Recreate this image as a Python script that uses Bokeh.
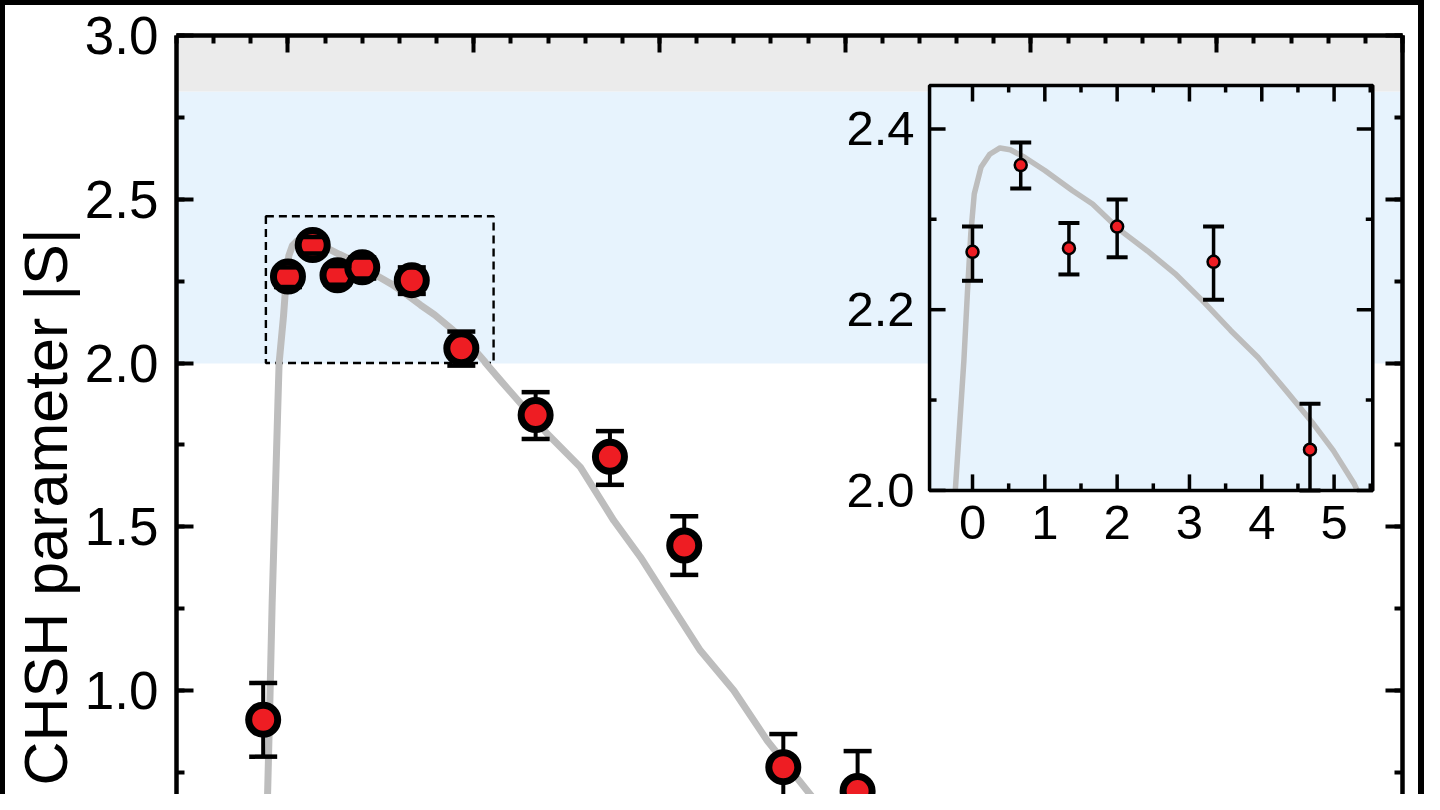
import numpy as np
from bokeh.plotting import figure
from bokeh.models import (Range1d, LinearAxis, SingleIntervalTicker, PrintfTickFormatter, Title)
from bokeh.embed import file_html
from bokeh.resources import INLINE
from bokeh.core.properties import value

# ---------------- data ----------------
delay = [-2/3, 0.0, 2/3, 4/3, 2.0, 10/3, 14/3, 20/3, 26/3, 32/3, 40/3, 46/3]
s_meas = [0.911, 2.264, 2.360, 2.268, 2.292, 2.253, 2.045, 1.841, 1.714, 1.443, 0.766, 0.693]
s_lo = [0.798, 2.232, 2.334, 2.239, 2.258, 2.211, 1.992, 1.768, 1.628, 1.353, 0.652, 0.571]
s_hi = [1.023, 2.292, 2.385, 2.296, 2.322, 2.292, 2.096, 1.911, 1.792, 1.532, 0.867, 0.815]

theory_x = [-0.59, -0.56, -0.49, -0.425, -0.34, -0.27, -0.238, -0.119, -0.071, -0.024, 0.024,
            0.119, 0.238, 0.38, 0.523, 0.713, 1.0, 1.38, 1.66, 2.04, 2.42, 2.80, 3.18, 3.57,
            3.95, 4.33, 4.71, 4.99, 5.28, 5.32, 5.72, 6.98, 7.87, 8.77, 9.49, 10.12, 11.10,
            12.0, 12.9, 13.61, 14.33, 15.0]
theory_s = [0.50, 0.63, 0.95, 1.27, 1.60, 1.88, 2.000, 2.144, 2.218, 2.284, 2.328,
            2.358, 2.372, 2.379, 2.377, 2.369, 2.354, 2.332, 2.317, 2.288, 2.265, 2.240, 2.210, 2.177,
            2.147, 2.111, 2.074, 2.044, 2.007, 2.000, 1.947, 1.784, 1.682, 1.519, 1.407, 1.295, 1.122,
            1.000, 0.847, 0.746, 0.644, 0.54]

classical_bound = 2.0
tsirelson_bound = 2 * np.sqrt(2)
s_max = 3.0

inset_x_ticks = [0, 1, 2, 3, 4, 5]
inset_x_minor = [0.5, 1.5, 2.5, 3.5, 4.5, 5.5]
inset_y_ticks = [2.0, 2.2, 2.4]
inset_y_minor = [2.1, 2.3]
inset_x_labels = ["0", "1", "2", "3", "4", "5"]
inset_y_labels = ["2.0", "2.2", "2.4"]
y_label = "CHSH parameter |S|"

# ---------------- style / layout ----------------
FONT = "Liberation Sans"
RED = "#ee1d23"
CURVE = "#bdbdbd"
BLUE = "#e7f3fd"
GRAY = "#ebebeb"

BL, BT, BR = 5, 5, 6            # black frame around the picture (CSS borders, border-box)
W, H = 1424, 794
MB_L, MB_T = 176 - BL, 35 - BT
MB_R = W - (1402 - BL)
FRAME_W = W - MB_L - MB_R
FRAME_H = H - MB_T
X0, X1 = -3.0, 30.0
Y1 = 3.0
Y0 = Y1 - FRAME_H / 327.5

# inset data window and where it sits (in main data coordinates)
IX0, IX1, IY0, IY1 = -0.594, 5.535, 2.0, 2.448
PL, PR, PB, PT = 17.27, 29.20, 1.611, 2.847

sx = (IX1 - IX0) / (PR - PL)
sy = (IY1 - IY0) / (PT - PB)
ix_start = IX0 - (PL - X0) * sx
ix_end = IX1 + (X1 - PR) * sx
iy_start = IY0 - (PB - Y0) * sy
iy_end = IY1 + (Y1 - PT) * sy
ipx_x = (ix_end - ix_start) / FRAME_W   # inset x units per pixel
ipx_y = (iy_end - iy_start) / FRAME_H   # inset y units per pixel

p = figure(width=W, height=H, x_range=Range1d(X0, X1), y_range=Range1d(Y0, Y1),
           output_backend="svg", toolbar_location=None,
           x_axis_location=None, y_axis_location=None,
           min_border_left=MB_L, min_border_right=MB_R, min_border_top=MB_T, min_border_bottom=0)
p.outline_line_color = None
p.grid.visible = False
p.background_fill_color = "white"
p.border_fill_color = "white"
p.styles = {"border-left": f"{BL}px solid black", "border-top": f"{BT}px solid black",
            "border-right": f"{BR}px solid black"}
p.extra_x_ranges = {"ix": Range1d(ix_start, ix_end)}
p.extra_y_ranges = {"iy": Range1d(iy_start, iy_end)}


def style_axis(ax, labels=True):
    ax.axis_line_width = 4.5
    ax.axis_line_color = "black"
    ax.major_tick_line_width = 4
    ax.minor_tick_line_width = 4
    ax.major_tick_in = 17
    ax.major_tick_out = 0
    ax.minor_tick_in = 8
    ax.minor_tick_out = 0
    if labels:
        ax.major_label_text_font = FONT
        ax.major_label_text_font_size = "53px"
        ax.major_label_text_color = "black"
        ax.major_label_standoff = 18
    else:
        ax.major_label_text_font_size = "1px"
        ax.major_label_text_color = None
        ax.major_label_standoff = 0


left = LinearAxis(ticker=SingleIntervalTicker(interval=0.5, num_minor_ticks=2),
                  formatter=PrintfTickFormatter(format="%.1f"))
style_axis(left)
p.add_layout(left, "left")
right = LinearAxis(ticker=SingleIntervalTicker(interval=0.5, num_minor_ticks=2))
style_axis(right, labels=False)
p.add_layout(right, "right")
top = LinearAxis(ticker=SingleIntervalTicker(interval=5, num_minor_ticks=5))
style_axis(top, labels=False)
p.add_layout(top, "above")

# y label as a side title (bottom-aligned like the cropped original)
ytitle = Title(text=y_label, align="left", offset=14, standoff=4,
               text_font=FONT, text_font_size="61px", text_font_style="normal",
               text_color="black")
p.add_layout(ytitle, "left")

# bands
p.hstrip(y0=[classical_bound, tsirelson_bound], y1=[tsirelson_bound, s_max],
         fill_color=[BLUE, GRAY], line_color=None)

# zoom box
p.quad(left=[IX0], right=[IX1], bottom=[IY0], top=[IY1], fill_color=None,
       line_color="black", line_width=2.4, line_dash="8 5")

# theory curve
p.line(theory_x, theory_s, line_color=CURVE, line_width=7, line_join="round")

# data with error bars
p.segment(x0=delay, y0=s_lo, x1=delay, y1=s_hi, line_color="black", line_width=4)
p.scatter(delay, s_meas, size=29, fill_color=RED, line_color="black", line_width=7)
p.scatter(delay + delay, s_lo + s_hi, marker="dash", size=28, line_color="black", line_width=4.5)

# ---------------- inset ----------------
R = dict(x_range_name="ix", y_range_name="iy")
p.quad(left=[IX0], right=[IX1], bottom=[IY0], top=[IY1], fill_color=BLUE, line_color=None, **R)

tx = np.array(theory_x)
ts = np.array(theory_s)
m = (tx >= IX0) & (tx <= IX1) & (ts >= IY0) & (ts <= IY1)
p.line(tx[m], ts[m], line_color=CURVE, line_width=5.5, line_join="round", **R)

d = np.array(delay)
sm = np.array(s_meas)
lo = np.maximum(np.array(s_lo), IY0)
hi = np.minimum(np.array(s_hi), IY1)
k = (d >= IX0) & (d <= IX1)
p.segment(x0=d[k], y0=lo[k], x1=d[k], y1=hi[k], line_color="black", line_width=3.5, **R)
p.scatter(d[k], sm[k], size=12, fill_color=RED, line_color="black", line_width=2.5, **R)
caps_x = np.concatenate([d[k], d[k]])
caps_y = np.concatenate([lo[k], hi[k]])
p.scatter(caps_x, caps_y, marker="dash", size=21, line_color="black", line_width=4, **R)

# inset ticks
MAJ, MIN = 16, 7
xt = np.array(inset_x_ticks, float)
xm = np.array(inset_x_minor, float)
xm = xm[(xm > IX0) & (xm < IX1)]
yt = np.array(inset_y_ticks, float)
ym = np.array(inset_y_minor, float)
for arr, L in ((xt, MAJ), (xm, MIN)):
    p.segment(x0=arr, y0=[IY0] * len(arr), x1=arr, y1=[IY0 + L * ipx_y] * len(arr),
              line_color="black", line_width=3.5, **R)
    p.segment(x0=arr, y0=[IY1] * len(arr), x1=arr, y1=[IY1 - L * ipx_y] * len(arr),
              line_color="black", line_width=3.5, **R)
for arr, L in ((yt, MAJ), (ym, MIN)):
    p.segment(x0=[IX0] * len(arr), y0=arr, x1=[IX0 + L * ipx_x] * len(arr), y1=arr,
              line_color="black", line_width=3.5, **R)
    p.segment(x0=[IX1] * len(arr), y0=arr, x1=[IX1 - L * ipx_x] * len(arr), y1=arr,
              line_color="black", line_width=3.5, **R)

p.text(x=xt, y=[IY0] * len(xt), text=inset_x_labels, text_font=value(FONT),
       text_font_size="49px", text_align="center", text_baseline="top", y_offset=16,
       text_color="black", **R)
p.text(x=[IX0] * len(yt), y=yt, text=inset_y_labels, text_font=value(FONT),
       text_font_size="49px", text_align="right", text_baseline="middle", x_offset=-15,
       text_color="black", **R)

p.quad(left=[IX0], right=[IX1], bottom=[IY0], top=[IY1], fill_color=None,
       line_color="black", line_width=3.5, **R)

open("out.html", "w").write(file_html(p, INLINE))
